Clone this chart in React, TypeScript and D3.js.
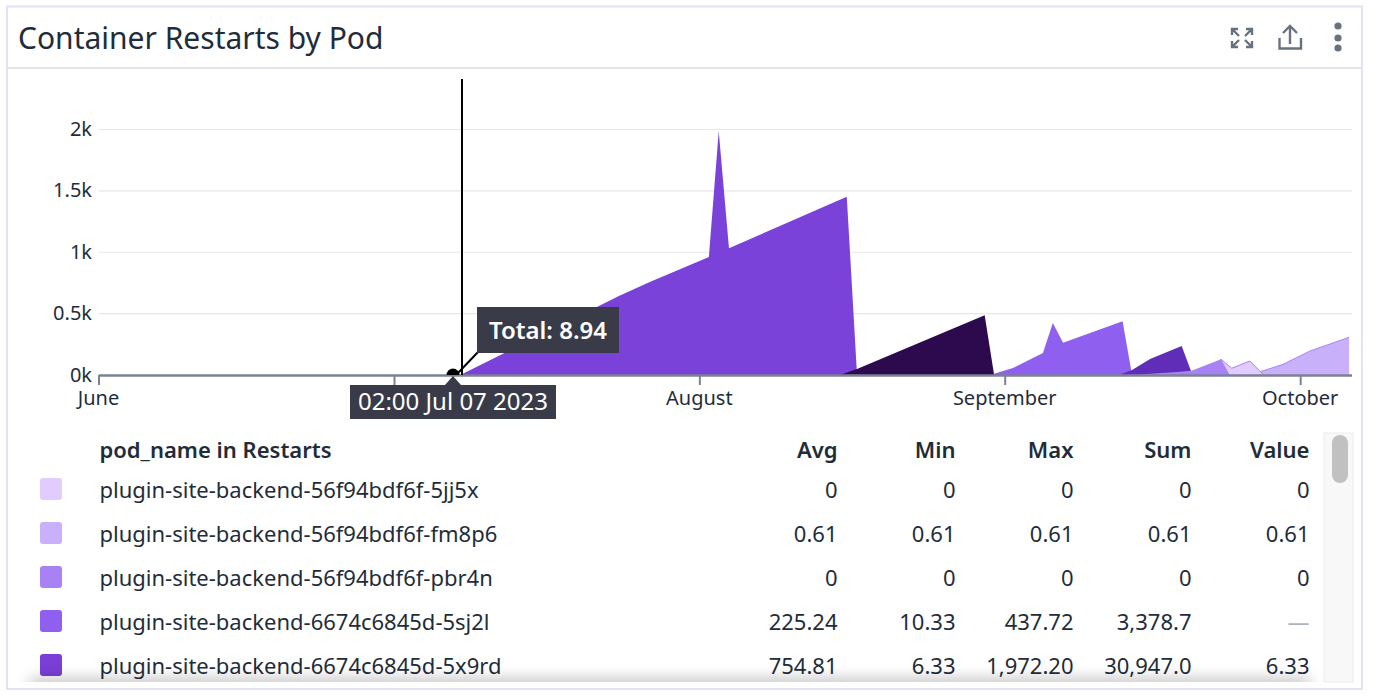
import React, { useEffect, useRef } from 'react';
import * as d3 from 'd3';

type Pt = [string, number];

const series5jj5x: Pt[] = [['2023-09-21T00', 0], ['2023-09-22T22', 128], ['2023-09-24T00', 55], ['2023-09-25T20', 114], ['2023-09-26T22', 27], ['2023-09-27T06', 0]];
const seriesFm8p6: Pt[] = [['2023-09-23T19', 0], ['2023-09-26T22', 27], ['2023-09-29T05', 87], ['2023-10-01T23', 196], ['2023-10-05T22', 307]];
const seriesPbr4n: Pt[] = [['2023-09-13T21', 0], ['2023-09-18T10', 24], ['2023-09-19T22', 35], ['2023-09-22T22', 128], ['2023-09-23T19', 0]];
const series5sj2l: Pt[] = [['2023-08-30T21', 10.33], ['2023-09-01T19', 57], ['2023-09-04T20', 179], ['2023-09-05T20', 424], ['2023-09-06T21', 263], ['2023-09-12T22', 437.72], ['2023-09-13T21', 0]];
const series5x9rd: Pt[] = [['2023-07-07T20', 6.33], ['2023-07-23T20', 645], ['2023-07-26T22', 757], ['2023-08-01T22', 961], ['2023-08-02T22', 1985], ['2023-08-03T23', 1033], ['2023-08-15T22', 1452], ['2023-08-16T23', 0]];
const seriesDark: Pt[] = [['2023-08-15T05', 0], ['2023-08-16T23', 48], ['2023-08-24T16', 310], ['2023-08-29T22', 486], ['2023-08-30T21', 0]];
const seriesDeep: Pt[] = [['2023-09-12T19', 8], ['2023-09-13T21', 41], ['2023-09-15T17', 130], ['2023-09-18T22', 236], ['2023-09-19T22', 20], ['2023-09-20T02', 0]];

const seriesList: { pts: Pt[]; color: string; edge?: string }[] = [
  { pts: series5x9rd, color: '#7a42d9' },
  { pts: seriesDark, color: '#2c0a4d' },
  { pts: series5sj2l, color: '#8f5ff0' },
  { pts: seriesDeep, color: '#5f2db8' },
  { pts: seriesFm8p6, color: '#c8b0fa', edge: '#a882f5' },
  { pts: series5jj5x, color: '#e0ccff', edge: '#a882f5' },
  { pts: seriesPbr4n, color: '#a882f5' },
];

const yTicks = [0, 500, 1000, 1500, 2000];
const yLabels = ['0k', '0.5k', '1k', '1.5k', '2k'];
const monthTicks = ['2023-06-01', '2023-07-01', '2023-08-01', '2023-09-01', '2023-10-01'];
const monthLabels = ['June', '', 'August', 'September', 'October'];

const pods = ['plugin-site-backend-56f94bdf6f-5jj5x', 'plugin-site-backend-56f94bdf6f-fm8p6', 'plugin-site-backend-56f94bdf6f-pbr4n', 'plugin-site-backend-6674c6845d-5sj2l', 'plugin-site-backend-6674c6845d-5x9rd'];
const swatches = ['#e0ccff', '#c8b0fa', '#a882f5', '#8f5ff0', '#7a3fd6'];
const avgCol = ['0', '0.61', '0', '225.24', '754.81'];
const minCol = ['0', '0.61', '0', '10.33', '6.33'];
const maxCol = ['0', '0.61', '0', '437.72', '1,972.20'];
const sumCol = ['0', '0.61', '0', '3,378.7', '30,947.0'];
const valueCol = ['0', '0.61', '0', '—', '6.33'];
const headers = ['Avg', 'Min', 'Max', 'Sum', 'Value'];
const headerRight = [837.5, 955.5, 1073.5, 1191.5, 1309.5];

const FONT = '"Noto Sans", sans-serif';
const INK = '#1f2d3a';
const parse = d3.utcParse('%Y-%m-%dT%H');
const parseDay = d3.utcParse('%Y-%m-%d');

const App: React.FC = () => {
  const svgRef = useRef<SVGSVGElement>(null);

  useEffect(() => {
    if (!svgRef.current) return;
    const svg = d3.select(svgRef.current);
    svg.selectAll('*').remove();

    const x = d3.scaleUtc()
      .domain([parseDay('2023-06-01')!, d3.utcHour.offset(parseDay('2023-06-01')!, 3053)])
      .range([99, 1352]);
    const y = d3.scaleLinear().domain([0, 2000]).range([375, 129.5]);

    // frame
    svg.append('rect').attr('x', 7).attr('y', 6.5).attr('width', 1355).attr('height', 682.5)
      .attr('fill', '#fff').attr('stroke', '#e1e4f0').attr('stroke-width', 2);
    svg.append('line').attr('x1', 7).attr('x2', 1362).attr('y1', 68).attr('y2', 68)
      .attr('stroke', '#e1e4f0').attr('stroke-width', 2);
    svg.append('text').attr('x', 18).attr('y', 49).text('Container Restarts by Pod')
      .attr('font-family', FONT).attr('font-size', 30).attr('fill', INK);

    // header icons
    const icons = svg.append('g').attr('fill', 'none').attr('stroke', '#68727e').attr('stroke-width', 2.4);
    [[1232, 29, 1, 1], [1252, 29, -1, 1], [1232, 47, 1, -1], [1252, 47, -1, -1]].forEach(([ax, ay, sx, sy]) => {
      icons.append('path').attr('d', `M${ax},${ay + sy * 6}V${ay}H${ax + sx * 6}M${ax},${ay}L${ax + sx * 7},${ay + sy * 7}`);
    });
    icons.append('path').attr('d', 'M1279.5,38V48.5H1301V38M1290,44V27M1283,33L1290,26L1297,33');
    [26, 38, 48].forEach(cy => {
      svg.append('circle').attr('cx', 1338).attr('cy', cy).attr('r', 3.6).attr('fill', '#68727e');
    });

    // y grid and labels
    yTicks.forEach((t, i) => {
      if (t > 0) {
        svg.append('line').attr('x1', 99).attr('x2', 1352).attr('y1', y(t)).attr('y2', y(t))
          .attr('stroke', '#e6e6ea').attr('stroke-width', 1.2);
      }
      svg.append('text').attr('x', 92).attr('y', y(t) + 6.5).attr('text-anchor', 'end').text(yLabels[i])
        .attr('font-family', FONT).attr('font-size', 20).attr('fill', INK);
    });

    // areas
    const area = d3.area<Pt>()
      .x(d => x(parse(d[0])!))
      .y0(y(0))
      .y1(d => y(d[1]));
    const topLine = d3.line<Pt>()
      .x(d => x(parse(d[0])!))
      .y(d => y(d[1]));
    seriesList.forEach(s => {
      svg.append('path').attr('d', area(s.pts)).attr('fill', s.color);
      if (s.edge) {
        svg.append('path').attr('d', topLine(s.pts)).attr('fill', 'none')
          .attr('stroke', s.edge).attr('stroke-width', 1);
      }
    });

    // x axis
    svg.append('line').attr('x1', 99).attr('x2', 1352).attr('y1', 375.5).attr('y2', 375.5)
      .attr('stroke', '#7c8294').attr('stroke-width', 2.4);
    monthTicks.forEach((m, i) => {
      const px = x(parseDay(m)!);
      svg.append('line').attr('x1', px).attr('x2', px).attr('y1', 375).attr('y2', 385)
        .attr('stroke', '#7c8294').attr('stroke-width', 2);
      if (monthLabels[i]) {
        svg.append('text').attr('x', px - 0.5).attr('y', 405).attr('text-anchor', 'middle').text(monthLabels[i])
          .attr('font-family', FONT).attr('font-size', 20).attr('fill', INK);
      }
    });

    // hover marker
    svg.append('line').attr('x1', 462).attr('x2', 462).attr('y1', 79).attr('y2', 375)
      .attr('stroke', '#000').attr('stroke-width', 2);
    svg.append('path').attr('d', 'M446.5,375A6.5,6.5 0 0 1 459.5,375Z').attr('fill', '#000');
    svg.append('line').attr('x1', 458).attr('x2', 478).attr('y1', 373).attr('y2', 352)
      .attr('stroke', '#000').attr('stroke-width', 2);
    svg.append('rect').attr('x', 477).attr('y', 307).attr('width', 142).attr('height', 46).attr('fill', '#393c48');
    svg.append('text').attr('x', 548).attr('y', 339).attr('text-anchor', 'middle').text('Total: 8.94')
      .attr('font-family', FONT).attr('font-weight', 600).attr('font-size', 24).attr('fill', '#fff');
    svg.append('path').attr('d', 'M445,385L453,376L461,385Z').attr('fill', '#393c48');
    svg.append('rect').attr('x', 350).attr('y', 385).attr('width', 206).attr('height', 34).attr('fill', '#393c48');
    svg.append('text').attr('x', 453).attr('y', 410).attr('text-anchor', 'middle').text('02:00 Jul 07 2023')
      .attr('font-family', FONT).attr('font-size', 24).attr('fill', '#fff');

    // legend table
    const rowY = (i: number) => 498 + i * 44;
    svg.append('text').attr('x', 99.5).attr('y', 458).text('pod_name in Restarts')
      .attr('font-family', FONT).attr('font-weight', 600).attr('font-size', 22).attr('fill', INK);
    headers.forEach((h, i) => {
      svg.append('text').attr('x', headerRight[i]).attr('y', 458).attr('text-anchor', 'end').text(h)
        .attr('font-family', FONT).attr('font-weight', 600).attr('font-size', 22).attr('fill', INK);
    });
    pods.forEach((p, i) => {
      svg.append('rect').attr('x', 40).attr('y', rowY(i) - 20).attr('width', 22).attr('height', 22).attr('rx', 3)
        .attr('fill', swatches[i]);
      svg.append('text').attr('x', 99.5).attr('y', rowY(i)).text(p)
        .attr('font-family', FONT).attr('font-size', 22).attr('fill', INK);
      [avgCol, minCol, maxCol, sumCol, valueCol].forEach((col, j) => {
        const dash = col[i] === '—';
        svg.append('text').attr('x', headerRight[j]).attr('y', rowY(i)).attr('text-anchor', 'end').text(col[i])
          .attr('font-family', FONT).attr('font-size', 22).attr('fill', dash ? '#b0b4b8' : INK);
      });
    });

    // fade at the bottom of the scroll area
    const defs = svg.append('defs');
    const blur = defs.append('filter').attr('id', 'soft').attr('x', '-5%').attr('y', '-300%').attr('width', '110%').attr('height', '700%');
    blur.append('feGaussianBlur').attr('stdDeviation', 8);
    const clip = defs.append('clipPath').attr('id', 'tableClip');
    clip.append('rect').attr('x', 8).attr('y', 630).attr('width', 1316).attr('height', 52);
    svg.append('g').attr('clip-path', 'url(#tableClip)')
      .append('rect').attr('x', 30).attr('y', 680).attr('width', 1280).attr('height', 12)
      .attr('fill', '#000').attr('opacity', 0.3).attr('filter', 'url(#soft)');
    svg.append('rect').attr('x', 8).attr('y', 682).attr('width', 1353).attr('height', 6).attr('fill', '#fff');

    // scrollbar
    svg.append('rect').attr('x', 1324).attr('y', 433).attr('width', 29).attr('height', 249)
      .attr('fill', '#f8f8f8').attr('stroke', '#ececec').attr('stroke-width', 1);
    svg.append('rect').attr('x', 1332).attr('y', 435).attr('width', 16).attr('height', 48).attr('rx', 8)
      .attr('fill', '#c1c1c1');
  }, []);

  return (
    <svg ref={svgRef} width="1386" height="696" viewBox="0 0 1386 696"
      style={{ position: 'absolute', left: 0, top: 0 }}></svg>
  );
};

export default App;
